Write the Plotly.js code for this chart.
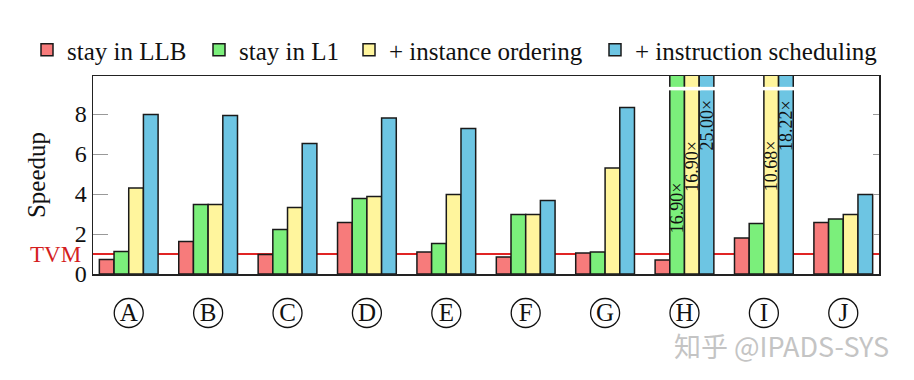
<!DOCTYPE html>
<html><head><meta charset="utf-8">
<script src="https://cdn.plot.ly/plotly-3.0.1.min.js"></script>
<style>html,body{margin:0;padding:0;background:#fff}</style>
</head><body><div id="chart" style="width:914px;height:380px"></div>
<script>
// ---- data ----
const categories = ['A','B','C','D','E','F','G','H','I','J'];
const seriesNames = ['stay in LLB','stay in L1','+ instance ordering','+ instruction scheduling'];
const stayLLB   = [0.72,1.63,0.98,2.57,1.10,0.85,1.05,0.70,1.80,2.57];
const stayL1    = [1.12,3.47,2.22,3.78,1.53,2.98,1.10,16.90,2.53,2.75];
const instOrder = [4.30,3.47,3.32,3.88,3.97,2.98,5.30,16.90,10.68,2.98];
const instSched = [7.98,7.93,6.53,7.80,7.27,3.68,8.33,25.00,18.22,3.97];
const yTickVals = [0,2,4,6,8];
const baselineValue = 1;
const baselineLabel = 'TVM';
const watermarkText = '知乎 @IPADS-SYS';

// ---- style ----
const colors = ['#F77B7B','#7BEF7B','#FFF59D','#6DC5E3'];
const serif = '"Liberation Serif", "Times New Roman", serif';
const yMax = 9.9, breakY = 9.27;
const labelY = [null, 3.3, 5.4, 7.45];
const legendPx = [27, 199, 349, 595];
const bargap = 0.26;
const L = 93, T = 76, W = 786, H = 198;
const px2x = p => (p - L) / W;
const py2y = p => (T + H - p) / H;

const allSeries = [stayLLB, stayL1, instOrder, instSched];
const nS = allSeries.length;
const groupW = 1 - bargap, bw = groupW / nS;
const barCenter = (i, j) => i - groupW / 2 + (j + 0.5) * bw;
const legendId = j => j === 0 ? 'legend' : 'legend' + (j + 1);

const traces = allSeries.map((vals, j) => ({
  type: 'bar', name: seriesNames[j], x: categories, y: vals, legend: legendId(j),
  marker: {color: colors[j], line: {color: '#1a1a1a', width: 1.5}},
  hoverinfo: 'skip'
}));
traces.push({type: 'scatter', x: [], y: [], yaxis: 'y2', showlegend: false, hoverinfo: 'skip'});

const shapes = [{
  type: 'line', xref: 'paper', yref: 'y', x0: 0, x1: 1, y0: baselineValue, y1: baselineValue,
  line: {color: '#E02424', width: 1.8}, layer: 'below'
}];
const annotations = [];
allSeries.forEach((vals, j) => {
  vals.forEach((v, i) => {
    if (v > yMax) {
      const c = barCenter(i, j);
      shapes.push({type: 'line', xref: 'x', yref: 'y', x0: c - bw / 2 - 0.02, x1: c + bw / 2 + 0.02,
        y0: breakY, y1: breakY, line: {color: '#ffffff', width: 3.5}, layer: 'above'});
      annotations.push({xref: 'x', yref: 'y', x: c, y: labelY[j], text: v.toFixed(2) + '×',
        textangle: -90, showarrow: false, font: {family: serif, size: 18, color: '#111'}});
    }
  });
});
// circled category labels
const rx = 14.5 / (W / (categories.length - 0.1)), ry = 14.5 / H, cy = py2y(313);
categories.forEach((c, i) => {
  shapes.push({type: 'circle', xref: 'x', yref: 'paper', x0: i - rx, x1: i + rx,
    y0: cy - ry, y1: cy + ry, line: {color: '#111', width: 1.3}});
});
annotations.push({xref: 'paper', yref: 'y', x: px2x(83), y: baselineValue, xanchor: 'right', yanchor: 'middle',
  text: baselineLabel, showarrow: false, font: {family: serif, size: 23, color: '#D41E1E'}});
annotations.push({xref: 'paper', yref: 'paper', x: px2x(781), y: py2y(345), xanchor: 'center', yanchor: 'middle',
  text: watermarkText, showarrow: false, font: {family: '"Noto Sans CJK SC", "Noto Sans", sans-serif', size: 27, color: '#c4c4c4'}});

const layout = {
  width: 914, height: 380,
  margin: {l: L, r: 914 - L - W, t: T, b: 380 - T - H},
  paper_bgcolor: '#fff', plot_bgcolor: '#fff',
  font: {family: serif, size: 24, color: '#111'},
  barmode: 'group', bargap: bargap, bargroupgap: 0,
  showlegend: true,
  xaxis: {type: 'category', range: [-0.45, categories.length - 0.55], showline: true, mirror: true,
    linecolor: '#222', linewidth: 1.5, ticks: '', showgrid: false, zeroline: false,
    tickfont: {family: serif, size: 25, color: '#111'}, ticklabelstandoff: 15},
  yaxis: {range: [0, yMax], tickvals: yTickVals, ticktext: yTickVals.map(String), showline: true, mirror: true,
    linecolor: '#222', linewidth: 1.5, ticks: 'inside', ticklen: 15, tickcolor: '#999', tickwidth: 1,
    showgrid: false, zeroline: false, tickfont: {family: serif, size: 24, color: '#111'},
    title: {text: 'Speedup', font: {family: serif, size: 25, color: '#111'}, standoff: 22}},
  yaxis2: {overlaying: 'y', side: 'right', range: [0, yMax], tickvals: yTickVals, showticklabels: false,
    ticks: 'inside', ticklen: 6, tickcolor: '#999', showline: false, showgrid: false, zeroline: false},
  shapes: shapes, annotations: annotations
};
allSeries.forEach((_, j) => {
  layout[legendId(j)] = {orientation: 'h', x: px2x(legendPx[j]), xanchor: 'left', y: py2y(50), yanchor: 'middle',
    font: {family: serif, size: 25, color: '#111'}, bgcolor: 'rgba(0,0,0,0)'};
});
Plotly.newPlot('chart', traces, layout, {displayModeBar: false, staticPlot: true});
</script></body></html>
